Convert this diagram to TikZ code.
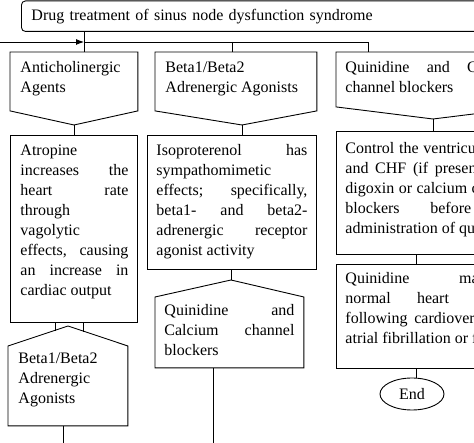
\documentclass[tikz,border=0pt]{standalone}
\usepackage{fontspec}
\setmainfont{Liberation Serif}
\usetikzlibrary{arrows.meta,shapes.geometric}
\tolerance=10000 \hbadness=10000 \hyphenpenalty=10000
\newcommand\fs{\fontsize{16}{20}\selectfont}
\tikzset{
  frame/.style={draw,inner sep=0pt,anchor=north west},
  body/.style={inner sep=0pt,anchor=north west},
  txt/.style={font=\fs,text width=#1,align=justify,inner sep=0pt,anchor=base west},
}

\begin{document}
\begin{tikzpicture}[x=1pt,y=-1pt,line width=.9pt]
\useasboundingbox (0,0) rectangle (474,443);
\clip (0,0) rectangle (474,443);
% heading
\node[frame,rounded corners=4pt,minimum height=30.5pt,text width=460pt,inner xsep=10pt,align=left,font=\fs] (head) at (21,.5) {Drug treatment of sinus node dysfunction syndrome};
\coordinate (in) at (-5,42);
\coordinate (j1) at (84,42); \coordinate (j2) at (232,42); \coordinate (j3) at (368,42);

% first column
\node[body,minimum width=127pt,minimum height=58pt] (anti) at (10,52) {};
\coordinate (antitip) at (74,125);
\draw (anti.south west) -- (anti.north west) -- (anti.north east) -- (anti.south east) -- (antitip) -- cycle;
\node[txt=108pt] (antit) at ([shift={(10pt,-21pt)}]anti.north west) {Anticholinergic\\Agents};
\node[frame,minimum width=127pt,minimum height=187pt] (atro) at (10,135) {};
\node[txt=108pt] (atrot) at ([shift={(10pt,-21pt)}]atro.north west) {Atropine\\ increases the\linebreak heart rate\linebreak through\\ vagolytic\\ effects, causing\linebreak an increase in\linebreak cardiac output};
\node[body,minimum width=119pt,minimum height=79pt] (beta) at (8,346) {};
\coordinate (betatop) at (68,326);
\draw (beta.north west) -- (betatop) -- (beta.north east) -- (beta.south east) -- (beta.south west) -- cycle;
\node[txt=105pt] (betat) at ([shift={(10pt,-18pt)}]beta.north west) {Beta1/Beta2\\Adrenergic\\Agonists};

% second column
\node[body,minimum width=161pt,minimum height=58pt] (agon) at (155,52) {};
\coordinate (agontip) at (242,125);
\draw (agon.south west) -- (agon.north west) -- (agon.north east) -- (agon.south east) -- (agontip) -- cycle;
\node[txt=145pt] (agont) at ([shift={(10pt,-21pt)}]agon.north west) {Beta1/Beta2\\Adrenergic Agonists};
\node[frame,minimum width=169pt,minimum height=134pt] (iso) at (147,135) {};
\node[txt=151pt] (isot) at ([shift={(9pt,-21pt)}]iso.north west) {Isoproterenol has\linebreak sympathomimetic\\ effects; specifically,\linebreak beta1- and beta2-\linebreak adrenergic receptor\linebreak agonist activity};
\node[body,minimum width=148pt,minimum height=70pt] (quin2) at (155,297) {};
\coordinate (quin2top) at (231,280);
\draw (quin2.north west) -- (quin2top) -- (quin2.north east) -- (quin2.south east) -- (quin2.south west) -- cycle;
\node[txt=130pt] (quin2t) at ([shift={(9pt,-19pt)}]quin2.north west) {Quinidine and\linebreak Calcium channel\linebreak blockers};

% third column
\node[body,minimum width=194pt,minimum height=54pt] (quin1) at (336,52) {};
\coordinate (quin1tip) at (433,119);
\draw (quin1.south west) -- (quin1.north west) -- (quin1.north east) -- (quin1.south east) -- (quin1tip) -- cycle;
\node[txt=176pt] (quin1t) at ([shift={(9pt,-21pt)}]quin1.north west) {Quinidine and Calcium\linebreak channel blockers};
\node[frame,minimum width=194pt,minimum height=123pt] (ctrl) at (336,131) {};
\node[txt=176pt] (ctrlt) at ([shift={(9pt,-23pt)}]ctrl.north west) {Control the ventricular rate\linebreak and CHF (if present) with\linebreak digoxin or calcium channel\linebreak blockers before the\linebreak administration of quinidine};
\node[frame,minimum width=194pt,minimum height=104pt] (quin3) at (336,264) {};
\node[txt=176pt] (quin3t) at ([shift={(9pt,-20pt)}]quin3.north west) {Quinidine maintains\linebreak normal heart rhythm\linebreak following cardioversion of\linebreak atrial fibrillation or flutter};
\node[draw,ellipse,minimum width=64pt,minimum height=32pt,inner sep=0pt,font=\fs] (stop) at (412,394) {End};
\coordinate (c3) at (416,0);

% connectors
\draw[-{Latex[length=8pt,width=6pt]}] (in) -- (j1);
\draw (head.south -| j1) -- (anti.north -| j1);
\draw (j1) -- (j3) -- (j3 |- quin1.north);
\draw (j2) -- (j2 |- agon.north);
\draw (antitip) -- (antitip |- atro.north);
\draw ([xshift=45pt]atro.south west) -- ++(0,8.3);
\draw ([xshift=73pt]atro.south west) -- ++(0,9.1);
\draw ([xshift=55pt]beta.south west) -- ++(0,30);
\draw (agontip) -- (agontip |- iso.north);
\draw (quin2top |- iso.south) -- (quin2top);
\draw ([xshift=58pt]quin2.south west) -- ++(0,90);
\draw (quin1tip) -- (quin1tip |- ctrl.north);
\draw (c3 |- ctrl.south) -- (c3 |- quin3.north);
\draw (c3 |- quin3.south) -- (c3 |- stop.north);
\end{tikzpicture}
\end{document}
